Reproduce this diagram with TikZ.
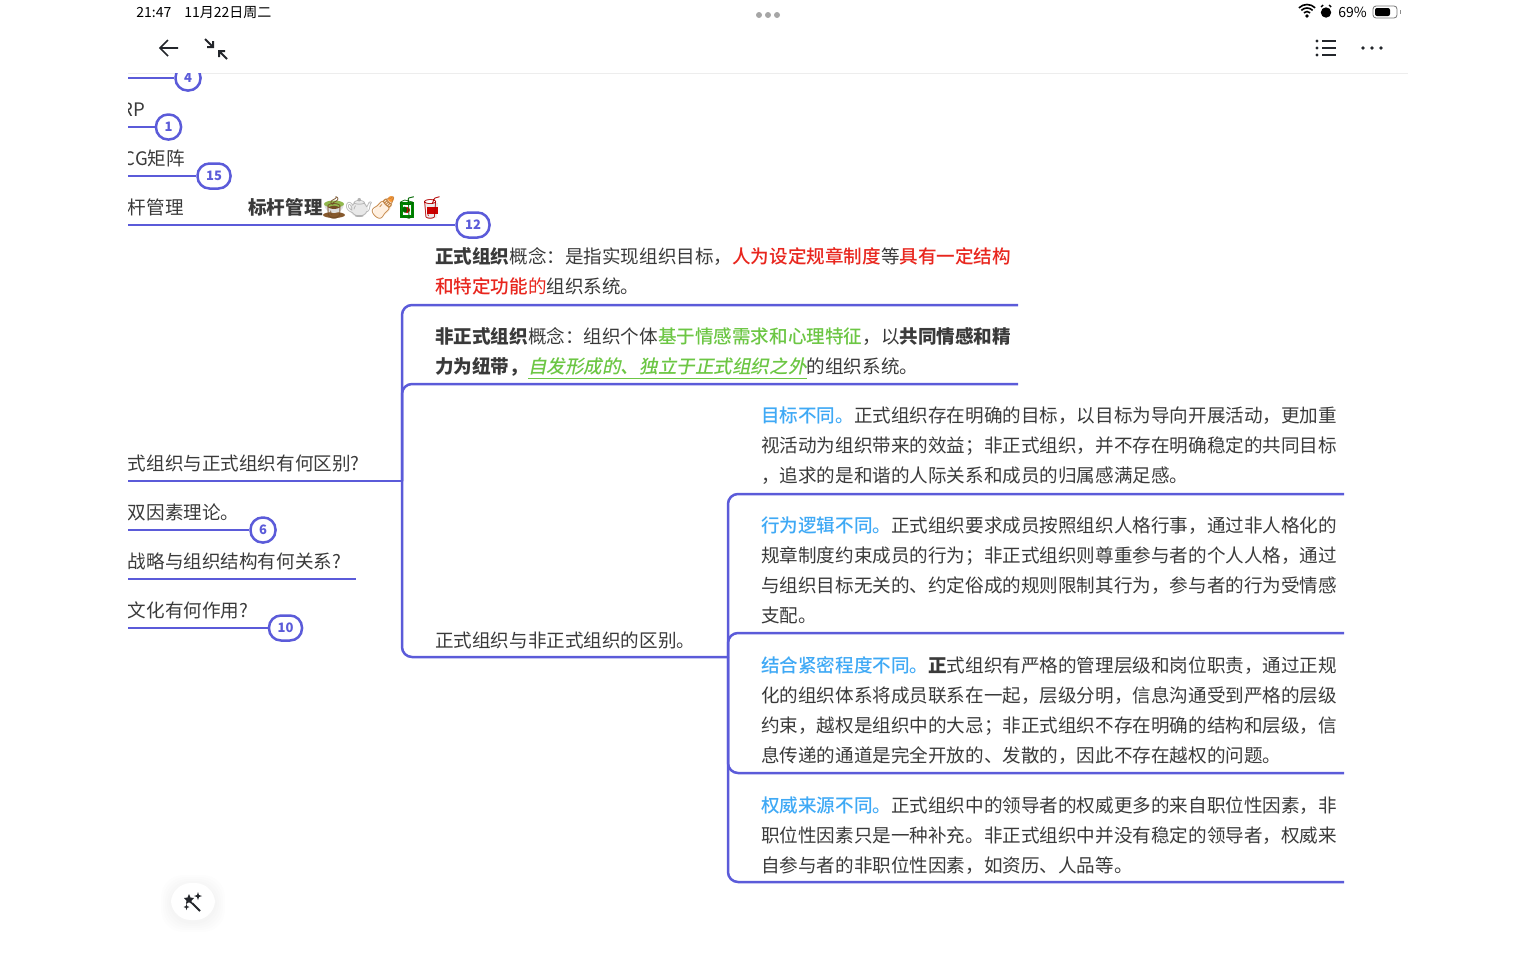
\documentclass[tikz,border=0pt]{standalone}
\usepackage{fontspec}
\setmainfont{Noto Sans CJK SC}
\newfontfamily\midcjk{Noto Sans CJK SC Medium}
\newfontfamily\slantcjk[FakeSlant=0.2]{Noto Sans CJK SC Medium}
\newfontfamily\emojifont{Noto Emoji}
\definecolor{linkblue}{HTML}{5B5BD9}
\definecolor{txtgray}{HTML}{3A3A3A}
\definecolor{iconblack}{HTML}{23262B}
\definecolor{hlred}{HTML}{E8261E}
\definecolor{hlgreen}{HTML}{6CC644}
\definecolor{hlblue}{HTML}{3FA9F5}
\newcommand{\redtxt}[1]{{\color{hlred}\midcjk #1}}
\newcommand{\greentxt}[1]{{\color{hlgreen}\midcjk #1}}
\newcommand{\bluetxt}[1]{{\color{hlblue}\midcjk #1}}
\tikzset{
  link/.style={draw=linkblue,line width=1.25pt},
  branch/.style={link,rounded corners=5pt},
  badge/.style={draw=linkblue,line width=1.25pt,fill=white,rounded corners=6pt,minimum height=12.5pt,inner sep=0pt,text=linkblue,font=\fontsize{6.5}{8}\selectfont\bfseries},
  small badge/.style={badge,minimum width=12.5pt},
  wide badge/.style={badge,minimum width=16.5pt},
  para/.style={anchor=north west,inner sep=0pt,align=left,text=txtgray,font=\fontsize{9.29}{15}\selectfont,execute at begin node=\strut},
  tag/.style={anchor=base west,inner sep=0pt,text=txtgray,font=\fontsize{9.29}{15}\selectfont},
  status/.style={anchor=base west,inner sep=0pt,text=black,font=\fontsize{7}{9}\selectfont},
  icon/.style={draw=iconblack,line width=.8pt},
  emojitag/.style={inner sep=0pt,font=\emojifont\fontsize{11}{12}\selectfont}
}

\begin{document}
\begin{tikzpicture}[x=.5pt,y=-.5pt]
  \useasboundingbox (0,0) rectangle (1536,960);

  % status bar
  \node[status] (clock) at (136,17) {21:47};
  \node[status] (date) at (184,17) {11月22日周二};
  \foreach \x in {759,768,777} \fill[gray!70] (\x,15) circle (1.5pt);
  \node[status] (battery) at (1338,17) {69\%};
  \draw[black!55,line width=.4pt,rounded corners=1.5pt] (1373,6) rectangle (1397,18);
  \fill[black,rounded corners=1pt] (1375,8) rectangle (1390,16);
  \fill[black!45] (1399.5,10) rectangle (1401,14);
  \fill[black] (1326,12.5) circle (2.6pt);
  \draw[black,line width=.7pt] (1321,7) -- (1323,5) (1331,7) -- (1329,5);
  \fill[black] (1307,16) circle (.9pt);
  \foreach \r in {4.5,8,11.5} \draw[black,line width=.8pt] (1307,16) ++(135:\r*.5pt) arc (135:45:\r*.5pt);

  % tool bar
  \draw[icon] (178,48) -- (160,48) (168,40) -- (160,48) -- (168,56);
  \draw[icon,line width=1pt] (205,39) -- (213,47) (213,41) -- (213,47) -- (207,47);
  \draw[icon,line width=1pt] (227,59) -- (219,51) (219,57) -- (219,51) -- (225,51);
  \foreach \y in {41,48,55} {
    \fill[iconblack] (1317,\y) circle (.8pt);
    \draw[icon] (1322,\y) -- (1336,\y);
  }
  \foreach \x in {1363,1372,1381} \fill[iconblack] (\x,48) circle (.95pt);
  \draw[black!7,line width=.5pt] (128,73) -- (1408,73);

  \begin{scope}
    \clip (128,73) rectangle (1536,960);

    % left column
    \coordinate (end4) at (128,78);
    \coordinate (end1) at (128,127);
    \coordinate (end15) at (128,176);
    \coordinate (end12) at (128,225);
    \coordinate (endmain) at (128,481);
    \coordinate (end6) at (128,530);
    \coordinate (endplain) at (128,579);
    \coordinate (endplainb) at (356,579);
    \coordinate (end10) at (128,628);

    \node[small badge] (b4) at (188,78) {4};
    \node[small badge] (b1) at (168.5,127) {1};
    \node[wide badge] (b15) at (214,176) {15};
    \node[wide badge] (b12) at (473,225) {12};
    \node[small badge] (b6) at (263,530) {6};
    \node[wide badge] (b10) at (285.5,628) {10};

    \draw[link] (end4) -- (b4);
    \draw[link] (end1) -- (b1);
    \draw[link] (end15) -- (b15);
    \draw[link] (end12) -- (b12);
    \draw[link] (end6) -- (b6);
    \draw[link] (endplain) -- (endplainb);
    \draw[link] (end10) -- (b10);

    \node[tag] (erp) at (121,116) {RP};
    \node[tag] (bcg) at (123.5,165) {CG矩阵};
    \node[tag] (bench) at (127.5,214) {杆管理};
    \node[tag] (benchb) at (248,214) {\bfseries 标杆管理};

    % colour under the emoji
    \fill[brown!70!black] (334,215) ellipse (11 and 3);
    \fill[gray!25] (324,204) .. controls (325,216) and (343,216) .. (344,204) -- cycle;
    \fill[olive!55!green!70] (334,204) ellipse (10 and 3.5);
    \fill[gray!18] (359,209) ellipse (9 and 8);
    \fill[orange!12!white,rotate around={45:(383,208)}] (383,208) ellipse (12 and 6.5);
    \fill[orange!80] (391,199) circle (3);
    \fill[green!55!black] (400,202) rectangle (414,218);
    \fill[white] (403,205) rectangle (411,215);
    \fill[red!80!black] (407,210) circle (3);
    \fill[gray!15] (426,203) -- (438,203) -- (436.5,218) -- (427.5,218) -- cycle;
    \fill[red!80!black] (426.5,207) rectangle (437.5,214);
    \foreach \x/\e/\c in {334/🍵/brown!60!black,359/🫖/gray!60,383/🍼/orange!50!gray,407/🧃/green!40!black,432/🥤/red!70!black}
      \node[emojitag,text=\c] at (\x,208) {\e};

    \node[tag] (qmain) at (127.5,470) {式组织与正式组织有何区别?};
    \node[tag] (qtwo) at (127.5,519) {双因素理论。};
    \node[tag] (qthree) at (127.5,568) {战略与组织结构有何关系?};
    \node[tag] (qfour) at (127.5,617) {文化有何作用?};

    % main fork
    \coordinate (forkmain) at (402,481);
    \coordinate (forkdiff) at (728,657);
    \coordinate (endformal) at (1018,305);
    \coordinate (endinformal) at (1018,384);
    \draw[link] (endmain) -- (forkmain);
    \draw[branch] (forkmain) |- (endformal);
    \draw[branch] (forkmain) |- (endinformal);
    \draw[branch] (forkmain) |- (forkdiff);

    \node[para] (formal) at (434.7,247) {\textbf{正式组织}概念：是指实现组织目标，\redtxt{人为设定规章制度}等\redtxt{具有一定结构}\\\redtxt{和特定功能}{\color{hlred}的}组织系统。};
    \node[para] (informal) at (434.7,327) {\textbf{非正式组织}概念：组织个体\greentxt{基于情感需求和心理特征}，以\textbf{共同情感和精}\\\textbf{力为纽带，}{\color{hlgreen}\underline{\slantcjk 自发形成的、独立于正式组织之外}}的组织系统。};
    \node[tag] (diff) at (434.7,647.5) {正式组织与非正式组织的区别。};

    % right fork
    \coordinate (endgoal) at (1344,494);
    \coordinate (endlogic) at (1344,633);
    \coordinate (endtight) at (1344,773);
    \coordinate (endpower) at (1344,882);
    \draw[branch] (forkdiff) |- (endgoal);
    \draw[branch] (forkdiff) |- (endlogic);
    \draw[branch] (forkdiff) |- (endtight);
    \draw[branch] (forkdiff) |- (endpower);

    \node[para] (goal) at (760.7,406) {\bluetxt{目标不同。}正式组织存在明确的目标，以目标为导向开展活动，更加重\\视活动为组织带来的效益；非正式组织，并不存在明确稳定的共同目标\\，追求的是和谐的人际关系和成员的归属感满足感。};
    \node[para] (logic) at (760.7,516) {\bluetxt{行为逻辑不同。}正式组织要求成员按照组织人格行事，通过非人格化的\\规章制度约束成员的行为；非正式组织则尊重参与者的个人人格，通过\\与组织目标无关的、约定俗成的规则限制其行为，参与者的行为受情感\\支配。};
    \node[para] (tight) at (760.7,656) {\bluetxt{结合紧密程度不同。}\textbf{正}式组织有严格的管理层级和岗位职责，通过正规\\化的组织体系将成员联系在一起，层级分明，信息沟通受到严格的层级\\约束，越权是组织中的大忌；非正式组织不存在明确的结构和层级，信\\息传递的通道是完全开放的、发散的，因此不存在越权的问题。};
    \node[para] (power) at (760.7,796) {\bluetxt{权威来源不同。}正式组织中的领导者的权威更多的来自职位性因素，非\\职位性因素只是一种补充。非正式组织中并没有稳定的领导者，权威来\\自参与者的非职位性因素，如资历、人品等。};
  \end{scope}

  % magic button
  \foreach \w in {10,8,6,4,2}
    \fill[black,opacity=.008,rounded corners=11pt] (171-\w,883-\w+2) rectangle (215+\w,920+\w+2);
  \fill[white,rounded corners=10pt] (171,883) rectangle (215,920);
  \fill[iconblack] (189,894) -- (190.5,897.5) -- (194,898) -- (191.5,900.5) -- (192,904) -- (189,902.3) -- (186,904) -- (186.5,900.5) -- (184,898) -- (187.5,897.5) -- cycle;
  \draw[iconblack,line width=.9pt] (192,903) -- (200,911);
  \fill[iconblack] (198,892) -- (199,895) -- (202,896) -- (199,897) -- (198,900) -- (197,897) -- (194,896) -- (197,895) -- cycle;
  \fill[iconblack] (186.5,904) -- (187.3,906.2) -- (189.5,907) -- (187.3,907.8) -- (186.5,910) -- (185.7,907.8) -- (183.5,907) -- (185.7,906.2) -- cycle;
\end{tikzpicture}
\end{document}
